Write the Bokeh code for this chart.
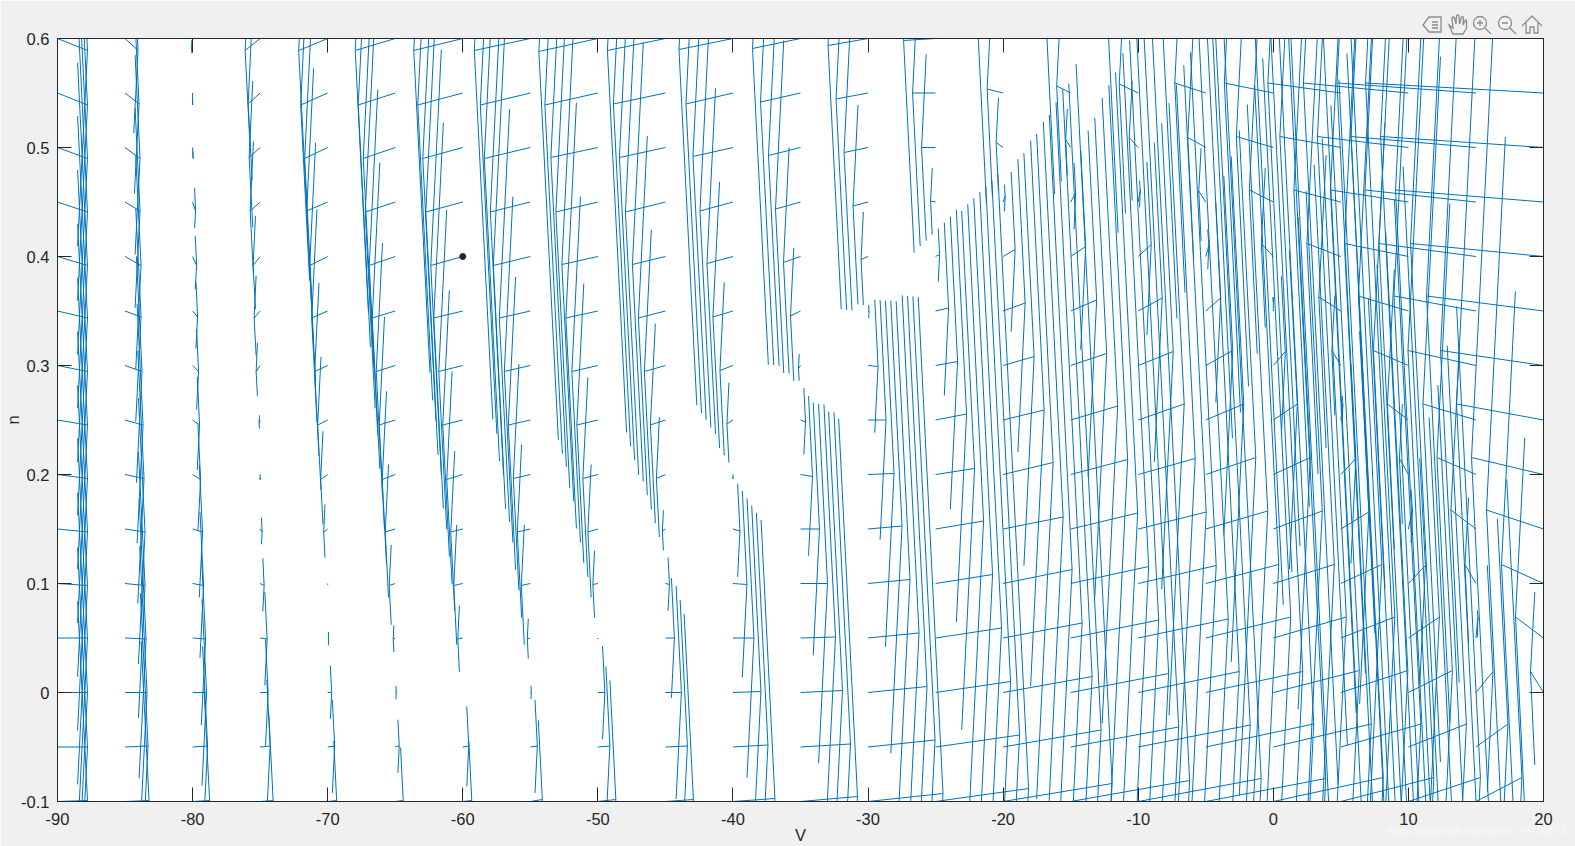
from bokeh.plotting import figure
from bokeh.layouts import column
from bokeh.models import ColumnDataSource, LinearAxis, FixedTicker, Div
from bokeh.embed import file_html
from bokeh.resources import INLINE

V_grid = [-90, -85, -80, -75, -70, -65, -60, -55, -50, -45, -40, -35, -30, -25, -20, -15, -10, -5, 0, 5, 10, 15, 20]
n_grid = [0.6, 0.55, 0.5, 0.45, 0.4, 0.35, 0.3, 0.25, 0.2, 0.15, 0.1, 0.05, 0.0, -0.05, -0.1]
x_ticks = [-90, -80, -70, -60, -50, -40, -30, -20, -10, 0, 10, 20]
y_ticks = [-0.1, 0, 0.1, 0.2, 0.3, 0.4, 0.5, 0.6]
dot_V = [-60]
dot_n = [0.4]
watermark = "https://blog.csdn.net/weixin_44706672"

# quiver readings, one list per V column, rows from n=0.6 down to n=-0.1
u_read = {
    -90: [30, 30, 30, 30, 30, 30, 30, 30, 30, 30, 30, 30, 30, 30, 30],
    -85: [13, 14, 15, 15, 16, 16, 17, 18, 19, 20, 20, 21, 22, 23, 24],
    -80: [-1, 0, 0.5, 3, 4, 5, 6, 7, 8, 10, 11, 13, 14, 15, 17],
    -75: [-15, -12, -11, -10, -7, -6, -4, -1, 0, 2, 4, 7, 8, 10, 13],
    -70: [-29, -27, -23, -21, -18, -16, -13, -10, -7, -4, 0, 1, 4, 7, 9],
    -65: [-40, -37, -32, -30, -26, -23, -19, -16, -13, -10, -6, -2, 1, 4, 8],
    -60: [-49, -45, -40, -37, -32, -29, -24, -20, -16, -12, -9, -5, 0, 6, 9],
    -55: [-56, -50, -46, -40, -37, -31, -26, -22, -17, -13, -9, -3, 1, 7, 12],
    -50: [-59, -53, -47, -42, -36, -32, -26, -21, -15, -10, -5, 0, 7, 12, 18],
    -45: [-58, -52, -46, -40, -33, -27, -21, -15, -9, -3, 4, 9, 16, 22, 28],
    -40: [-54, -47, -40, -33, -26, -20, -13, -6, 0, 7, 14, 21, 28, 35, 42],
    -35: [-48, -40, -32, -25, -17, -10, -2, 5, 12, 19, 27, 35, 42, 50, 57],
    -30: [-40, -32, -24, -15, -7, 1, 10, 18, 26, 34, 42, 51, 59, 67, 75],
    -25: [-32, -23, -14, -5, 4, 13, 22, 31, 39, 48, 57, 66, 75, 84, 93],
    -20: [-25, -16, -7, 2, 12, 22, 31, 41, 50, 60, 69, 79, 89, 98, 109],
    -15: [-24, -14, -5, 5, 15, 26, 36, 47, 57, 67, 78, 88, 98, 108, 119],
    -10: [-30, -19, -9, 2, 13, 24, 35, 46, 57, 68, 78, 90, 101, 112, 123],
    -5: [-43, -31, -18, -7, 3, 15, 27, 38, 50, 62, 73, 85, 97, 108, 120],
    0: [-61, -49, -37, -24, -12, 0, 12, 24, 37, 49, 61, 73, 86, 98, 110],
    5: [-86, -73, -61, -47, -34, -22, -9, 2, 15, 28, 41, 54, 67, 80, 93],
    10: [-118, -105, -91, -78, -64, -50, -35, -21, -9, 4, 17, 31, 44, 58, 72],
    15: [-153, -139, -125, -111, -97, -82, -68, -53, -39, -25, -11, 2, 17, 32, 46],
    20: [-193, -178, -163, -148, -133, -117, -103, -87, -72, -57, -42, -28, -13, 1, 13],
}
v_read = {
    -90: [-12, -12, -11, -10, -9, -7, -6, -5, -4, -3, -2, 0, 0, 0, 1],
    -85: [-12, -11, -11, -9, -9, -6, -6, -5, -4, -3, -2, -1, 0, 1, 1],
    -80: [-12, -12, -11, -9, -9, -6, -6, -5, -5, -3, -2, -1, 0, 1, 1],
    -75: [-12, -11, -10, -9, -9, -7, -6, -3, -5, -3, -2, -1, 0, 1, 1],
    -70: [-12, -12, -11, -9, -9, -7, -6, -5, -5, -3, -1, -1, 0, 1, 1],
    -65: [-12, -12, -11, -10, -9, -7, -6, -5, -5, -3, -2, -1, 0, 1, 1],
    -60: [-12, -12, -11, -10, -9, -7, -6, -5, -5, -3, -2, -1, 0, 1, 1],
    -55: [-12, -12, -11, -10, -9, -7, -6, -5, -4, -3, -2, -1, 0, 1, 2],
    -50: [-13, -12, -10, -10, -8, -7, -6, -5, -4, -3, -1, -1, 0, 1, 2],
    -45: [-12, -11, -10, -10, -8, -7, -6, -5, -4, -2, -1, 0, 0, 1, 2],
    -40: [-11, -11, -9, -9, -7, -6, -5, -4, -4, -2, -1, 0, 1, 2, 3],
    -35: [-10, -9, -8, -7, -6, -5, -3, -2, -2, 0, 0, 1, 2, 3, 5],
    -30: [-7, -6, -5, -4, -3, -1, -1, 0, 1, 3, 4, 5, 6, 7, 8],
    -25: [-2, 0, 0, 1, 2, 3, 4, 6, 6, 8, 9, 10, 11, 12, 13],
    -20: [3, 4, 5, 6, 7, 8, 9, 10, 12, 12, 14, 15, 16, 17, 18],
    -15: [6, 7, 8, 9, 10, 11, 12, 14, 15, 16, 17, 18, 19, 20, 21],
    -10: [8, 9, 10, 12, 12, 13, 14, 16, 16, 17, 18, 19, 21, 22, 23],
    -5: [9, 10, 10, 11, 11, 13, 15, 16, 17, 18, 19, 21, 21, 23, 23],
    0: [9, 10, 11, 12, 13, 14, 14, 16, 17, 18, 19, 21, 22, 23, 24],
    5: [9, 10, 11, 12, 13, 14, 15, 16, 16, 17, 19, 21, 22, 23, 24],
    10: [9, 10, 11, 12, 13, 15, 15, 16, 16, 19, 18, 21, 22, 23, 24],
    15: [9, 10, 11, 12, 13, 15, 15, 16, 17, 19, 19, 21, 21, 23, 24],
    20: [9, 10, 11, 12, 13, 15, 15, 16, 17, 19, 19, 21, 21, 22, 24],
}
U_READ = 13.515   # reading units per unit of V
V_READ = 1090.6   # reading units per unit of n
ALPHA, BETA = 0.33, 0.25  # quiver arrowhead shape

xs, ys = [], []
for Vg in V_grid:
    for i, ng in enumerate(n_grid):
        u = u_read[Vg][i] / U_READ
        v = v_read[Vg][i] / V_READ
        tx, ty = Vg + u, ng + v
        xs.append([Vg, tx])
        ys.append([ng, ty])
        xs.append([tx - ALPHA * (u + BETA * v), tx, tx - ALPHA * (u - BETA * v)])
        ys.append([ty - ALPHA * (v - BETA * u), ty, ty - ALPHA * (v + BETA * u)])

p = figure(width=1575, height=846, x_range=(-90, 20), y_range=(-0.1, 0.6),
           output_backend="svg", toolbar_location=None,
           min_border_left=57, min_border_right=32, min_border_top=38, min_border_bottom=44,
           background_fill_color="white", border_fill_color="#F0F0F0",
           x_axis_label="V", y_axis_label="n")
p.grid.visible = False
p.outline_line_color = "#262626"
p.outline_line_width = 1

FONT = "Liberation Sans"
ink = "#262626"
for ax, ticks in ((p.xaxis[0], x_ticks), (p.yaxis[0], y_ticks)):
    ax.ticker = FixedTicker(ticks=ticks)
    ax.major_label_overrides = {t: f"{t:g}" for t in ticks}
    ax.major_tick_in = 14
    ax.major_tick_out = 0
    ax.minor_tick_in = 0
    ax.minor_tick_out = 0
    ax.major_tick_line_color = ink
    ax.axis_line_color = ink
    ax.major_label_text_color = ink
    ax.major_label_text_font = FONT
    ax.major_label_text_font_size = "16.5px"
    ax.axis_label_text_color = ink
    ax.axis_label_text_font = FONT
    ax.axis_label_text_font_size = "16.5px"
    ax.axis_label_text_font_style = "normal"
p.xaxis[0].major_label_standoff = 11
p.yaxis[0].major_label_standoff = 8
p.xaxis[0].axis_label_standoff = -2
p.yaxis[0].axis_label_standoff = -4

for side, ticks in (("right", y_ticks), ("above", x_ticks)):
    ax = LinearAxis(ticker=FixedTicker(ticks=ticks), major_tick_in=14, major_tick_out=0,
                    minor_tick_in=0, minor_tick_out=0, major_tick_line_color=ink,
                    axis_line_color=ink, major_label_text_color=None,
                    major_label_overrides={t: "" for t in ticks}, major_label_standoff=0)
    p.add_layout(ax, side)

src = ColumnDataSource(dict(xs=xs, ys=ys))
p.multi_line("xs", "ys", source=src, line_color="#0072BD", line_width=1)
p.scatter(dot_V, dot_n, marker="circle", size=6, fill_color="#262626", line_color="#262626")

# window furniture of the screenshot: the axes toolbar icons and the image watermark
furniture = f"""
<svg xmlns="http://www.w3.org/2000/svg" width="1575" height="846" style="display:block">
 <g fill="none" stroke="#8C8C8C" stroke-width="1.3">
  <path d="M1423 25 L1429 17 H1441 V32 H1429 Z M1432 22 H1438 M1432 25 H1438 M1432 28 H1438"/>
  <path d="M1449 25 L1453 28 L1452 18 Q1453 16 1454.5 18 L1456 24 L1456.5 15.5 Q1458 14 1459 16 L1459.5 24 L1461.5 17 Q1463 16 1463.5 18 L1463 25 L1465.5 20 Q1467 20 1466.5 22 V28 L1463 34 H1453 Z"/>
  <circle cx="1480" cy="23" r="6.5"/><path d="M1485 28 L1491 34 M1477 23 H1483 M1480 20 V26"/>
  <circle cx="1505" cy="23" r="6.5"/><path d="M1510 28 L1516 34 M1502 23 H1508"/>
  <path d="M1522 26 L1532 16 L1542 26 M1526 23 V33 H1530 V27 H1534 V33 H1538 V23"/>
 </g>
 <text x="1387" y="834" font-family="{FONT}" font-size="10.5" fill="#ffffff" fill-opacity="0.6">{watermark}</text>
</svg>"""
overlay = Div(text=furniture, width=1575, height=0, margin=0,
              styles={"position": "absolute", "left": "0", "top": "0", "pointer-events": "none"})

open("out.html", "w").write(file_html(column(p, overlay, spacing=0), INLINE))
